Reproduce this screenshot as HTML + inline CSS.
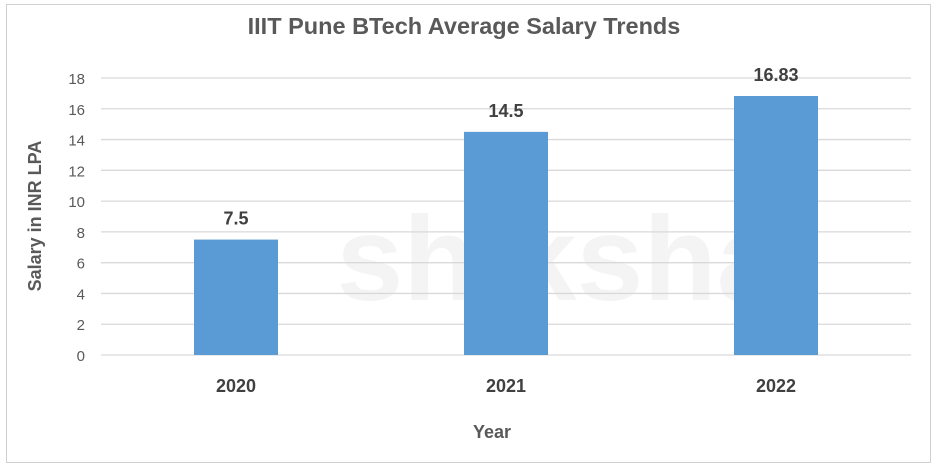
<!DOCTYPE html>
<html><head><meta charset="utf-8"><style>
body{margin:0;width:936px;height:468px;background:#fff;overflow:hidden;font-family:"Liberation Sans",sans-serif}
</style></head><body>
<svg id="chart" width="936" height="468" xmlns="http://www.w3.org/2000/svg">
<rect x="6.5" y="4.5" width="924" height="458" fill="#fff" stroke="#d0d0d0"/>
<text x="560" y="300" text-anchor="middle" font-size="120" font-weight="bold" fill="#f4f4f4">shiksha</text>
<text x="464" y="34" text-anchor="middle" font-size="23.5" font-weight="bold" fill="#595959">IIIT Pune BTech Average Salary Trends</text>
<text transform="translate(41,216) rotate(-90)" text-anchor="middle" font-size="18" font-weight="bold" fill="#595959">Salary in INR LPA</text>
<text x="492" y="438" text-anchor="middle" font-size="18" font-weight="bold" fill="#595959">Year</text>
<g id="grid"></g><g id="bars"></g>
</svg>
<script>
const categories=["2020","2021","2022"];
const salaries=[7.5,14.5,16.83];
const valueLabels=["7.5","14.5","16.83"];
const yTicks=[0,2,4,6,8,10,12,14,16,18];
const NS="http://www.w3.org/2000/svg";
const L=101,R=911,Y0=355,Y18=78;
function y(v){return Y0-(v/18)*(Y0-Y18);}
function xc(i){const w=(R-L)/categories.length;return L+w*(i+0.5);}
const grid=document.getElementById('grid'),bars=document.getElementById('bars');
function mk(tag,attrs,parent){const e=document.createElementNS(NS,tag);for(const k in attrs)e.setAttribute(k,attrs[k]);parent.appendChild(e);return e;}
yTicks.forEach(t=>{
 const ln=mk('line',{x1:L,x2:R,y1:y(t),y2:y(t),stroke:'#d9d9d9','stroke-width':1.3},grid);
 
 
 const tx=mk('text',{x:85,y:y(t)+6,'text-anchor':'end','font-size':15,fill:'#595959'},grid);
 tx.textContent=t;
 
 
});
const bw=84;
categories.forEach((c,i)=>{
 const r=mk('rect',{x:xc(i)-bw/2,y:y(salaries[i]),width:bw,height:Y0-y(salaries[i]),fill:'#5b9bd5'},bars);
 
 
 const v=mk('text',{x:xc(i),y:y(salaries[i])-15,'text-anchor':'middle','font-size':18,'font-weight':'bold',fill:'#404040'},bars);
 v.textContent=valueLabels[i];
 
 
 const xl=mk('text',{x:xc(i),y:392,'text-anchor':'middle','font-size':18,'font-weight':'bold',fill:'#404040'},bars);
 xl.textContent=c;
 
 
});
</script>
</body></html>
